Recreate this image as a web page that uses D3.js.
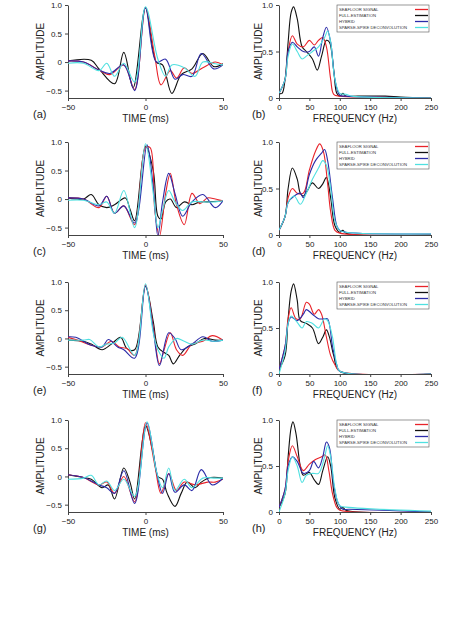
<!DOCTYPE html>
<html><head><meta charset="utf-8">
<script src="https://cdn.jsdelivr.net/npm/d3@7"></script>
<style>body{margin:0;background:#fff}text{font-family:"Liberation Sans",Arial,sans-serif}</style>
</head><body><svg id="c" width="474" height="622"></svg>
<script>
const seriesNames=["SEAFLOOR SIGNAL","FULL-ESTIMATION","HYBRID","SPARSE-SPIKE DECONVOLUTION"];
const seriesColors=["#e8232a","#111111","#2b2ba8","#4fe0e0"];
const panelLetters=["(a)","(b)","(c)","(d)","(e)","(f)","(g)","(h)"];
const timeTicks=[-50,0,50];
const freqTicks=[0,50,100,150,200,250];
const ampTicksTime=[-0.5,0,0.5,1.0];
const ampTicksFreq=[0,0.5,1.0];

const timeA=[
[[-50,0.02],[-40,0],[-30,-0.14],[-23,-0.22],[-14,-0.05],[-7,-0.48],[0,0.95],[6,0.1],[10,-0.4],[16,-0.15],[20,-0.28],[25,-0.1],[30,-0.2],[37,-0.1],[45,0],[50,-0.05]],
[[-50,0.02],[-35,0.03],[-30,-0.12],[-20,-0.38],[-14,0.17],[-8,-0.45],[0,0.95],[7,0],[11,-0.05],[17,-0.55],[23,-0.22],[30,-0.12],[37,0.15],[44,-0.08],[50,-0.03]],
[[-50,0.02],[-40,0],[-30,-0.14],[-23,-0.2],[-14,-0.05],[-7,-0.5],[0,0.95],[7,0.0],[13,0.05],[19,-0.3],[24,-0.22],[30,-0.25],[36,0.15],[44,-0.12],[50,-0.05]],
[[-50,-0.02],[-40,-0.02],[-30,-0.15],[-25,-0.02],[-20,-0.25],[-14,-0.02],[-7,-0.35],[0,0.97],[8,0.05],[13,-0.25],[17,-0.05],[25,-0.1],[32,-0.25],[37,0.0],[45,-0.03],[50,-0.05]]];
const timeC=[
[[-50,0.02],[-40,0],[-30,-0.15],[-25,0.05],[-20,-0.25],[-14,-0.12],[-7,-0.45],[0,0.9],[3,0.9],[6,-0.2],[9,-0.65],[13,0.1],[16,0.45],[20,-0.1],[25,-0.45],[30,0.1],[35,-0.08],[40,0.02],[45,0],[50,-0.03]],
[[-50,0.02],[-40,0],[-35,0.08],[-30,-0.1],[-25,-0.15],[-20,-0.1],[-13,0.02],[-10,-0.18],[-7,-0.38],[0,0.93],[5,0.5],[8,-0.3],[10,-0.35],[13,-0.05],[16,0.0],[20,-0.15],[25,-0.05],[30,-0.1],[35,-0.05],[40,-0.05],[50,-0.03]],
[[-50,0.02],[-40,0],[-30,-0.12],[-25,0.05],[-20,-0.25],[-14,-0.12],[-7,-0.42],[1,0.95],[5,0.2],[8,-0.65],[11,-0.05],[15,0.45],[19,0.1],[24,-0.3],[30,-0.05],[37,0.08],[45,-0.15],[50,-0.03]],
[[-50,-0.02],[-40,-0.02],[-30,-0.1],[-25,-0.05],[-20,-0.25],[-14,0.15],[-7,-0.5],[0,0.97],[5,0.1],[8,-0.5],[11,-0.2],[15,0.15],[19,-0.05],[24,-0.2],[30,-0.05],[37,-0.05],[45,-0.05],[50,-0.03]]];
const timeE=[
[[-50,0.02],[-45,-0.02],[-35,-0.12],[-28,-0.15],[-22,-0.05],[-17,-0.15],[-12,-0.18],[-7,-0.3],[0,0.95],[5,0.2],[9,-0.45],[12,-0.2],[16,0.1],[20,-0.2],[24,-0.3],[30,-0.1],[37,-0.05],[43,0.05],[50,-0.03]],
[[-50,-0.03],[-40,-0.05],[-35,-0.1],[-28,-0.2],[-22,-0.1],[-16,0.02],[-12,-0.18],[-7,-0.2],[0,0.92],[5,0.3],[8,-0.15],[12,-0.25],[15,-0.3],[18,-0.45],[22,-0.3],[27,-0.15],[32,-0.1],[38,0.0],[45,-0.03],[50,-0.03]],
[[-50,0.03],[-45,0.02],[-35,-0.12],[-28,-0.15],[-24,-0.02],[-18,-0.15],[-14,-0.2],[-7,-0.35],[0,0.93],[5,0.15],[9,-0.48],[15,0.1],[19,0.0],[23,-0.2],[30,-0.1],[37,0.03],[43,-0.05],[50,-0.03]],
[[-50,-0.03],[-40,-0.03],[-36,-0.02],[-30,-0.15],[-25,-0.1],[-20,-0.08],[-15,0.02],[-7,-0.3],[0,0.97],[5,0.1],[8,-0.2],[12,-0.35],[15,-0.15],[20,0.0],[25,-0.05],[30,-0.1],[37,-0.03],[45,-0.05],[50,-0.03]]];
const timeG=[
[[-50,0.03],[-40,-0.02],[-30,-0.15],[-25,-0.1],[-20,-0.3],[-14,0.0],[-7,-0.45],[0,0.95],[6,0.2],[10,-0.3],[15,0.05],[20,-0.25],[25,-0.1],[32,-0.15],[40,-0.1],[45,-0.1],[50,-0.05]],
[[-50,0.03],[-40,-0.02],[-35,-0.05],[-28,-0.2],[-24,-0.15],[-20,-0.4],[-14,0.15],[-10,-0.1],[-7,-0.4],[0,0.9],[5,0.4],[8,0],[11,-0.05],[14,-0.3],[19,-0.53],[23,-0.3],[27,-0.1],[32,-0.2],[36,-0.1],[42,-0.02],[50,-0.03]],
[[-50,0.03],[-40,-0.02],[-30,-0.15],[-25,-0.2],[-20,-0.3],[-14,0.1],[-7,-0.48],[1,0.95],[7,0.1],[11,-0.3],[15,0.05],[19,-0.28],[25,-0.15],[30,-0.25],[36,0.12],[43,-0.15],[50,-0.03]],
[[-50,-0.05],[-40,-0.03],[-35,0.02],[-30,-0.15],[-25,-0.08],[-20,-0.25],[-14,-0.05],[-7,-0.35],[1,0.97],[7,0.1],[11,-0.2],[15,0.15],[19,-0.25],[25,-0.05],[30,-0.2],[37,-0.03],[45,-0.03],[50,-0.03]]];

const freqB=[
[[0,0.05],[10,0.2],[15,0.5],[22,0.67],[30,0.58],[40,0.55],[50,0.62],[58,0.57],[65,0.62],[72,0.65],[78,0.55],[85,0.2],[90,0.04],[100,0.02],[150,0.01],[250,0]],
[[0,0.05],[5,0.05],[10,0.2],[15,0.6],[20,0.92],[24,0.98],[30,0.85],[38,0.55],[45,0.5],[55,0.42],[63,0.3],[70,0.45],[78,0.62],[83,0.6],[90,0.3],[95,0.05],[100,0.02],[105,0.05],[110,0.02],[130,0.02],[175,0.02],[200,0.01],[250,0]],
[[0,0.05],[10,0.2],[15,0.5],[22,0.6],[30,0.55],[40,0.5],[50,0.5],[58,0.55],[65,0.45],[72,0.65],[78,0.76],[85,0.6],[92,0.2],[100,0.03],[110,0.02],[250,0]],
[[0,0.05],[10,0.2],[15,0.45],[22,0.58],[30,0.5],[38,0.42],[45,0.45],[55,0.5],[65,0.55],[75,0.65],[80,0.72],[85,0.6],[92,0.2],[100,0.05],[110,0.04],[120,0.02],[250,0]]];
const freqD=[
[[0,0.05],[10,0.2],[15,0.4],[22,0.5],[30,0.45],[40,0.45],[50,0.7],[60,0.9],[67,0.98],[73,0.9],[80,0.55],[85,0.25],[92,0.05],[100,0.02],[250,0]],
[[0,0.05],[10,0.2],[15,0.5],[22,0.72],[30,0.6],[35,0.45],[40,0.42],[47,0.48],[55,0.56],[65,0.5],[72,0.55],[78,0.62],[85,0.4],[92,0.1],[100,0.03],[105,0.05],[110,0.02],[250,0]],
[[0,0.05],[10,0.2],[15,0.35],[25,0.42],[35,0.45],[40,0.4],[50,0.65],[60,0.8],[70,0.88],[75,0.92],[80,0.8],[88,0.4],[95,0.1],[100,0.05],[110,0.03],[250,0.01]],
[[0,0.05],[10,0.2],[15,0.35],[25,0.42],[35,0.33],[45,0.45],[55,0.6],[65,0.72],[72,0.8],[78,0.75],[85,0.5],[92,0.15],[100,0.05],[110,0.03],[250,0.01]]];
const freqF=[
[[0,0.05],[10,0.3],[15,0.6],[20,0.72],[28,0.6],[35,0.6],[45,0.78],[50,0.76],[58,0.65],[65,0.7],[70,0.65],[78,0.4],[85,0.2],[92,0.1],[100,0.03],[250,0]],
[[0,0.05],[10,0.2],[15,0.6],[20,0.9],[24,0.98],[30,0.8],[35,0.58],[45,0.55],[55,0.5],[65,0.33],[72,0.4],[78,0.48],[83,0.4],[90,0.2],[100,0.03],[250,0]],
[[0,0.05],[10,0.3],[15,0.55],[20,0.62],[30,0.58],[40,0.65],[45,0.7],[55,0.65],[65,0.6],[75,0.6],[80,0.6],[88,0.3],[95,0.1],[100,0.03],[250,0]],
[[0,0.0],[10,0.25],[15,0.55],[20,0.63],[30,0.56],[38,0.5],[45,0.57],[55,0.55],[65,0.5],[75,0.6],[80,0.58],[88,0.4],[95,0.1],[100,0.03],[250,0]]];
const freqH=[
[[0,0.05],[10,0.25],[15,0.55],[22,0.72],[30,0.6],[40,0.45],[50,0.52],[60,0.57],[70,0.6],[76,0.62],[82,0.45],[88,0.2],[95,0.05],[100,0.02],[250,0]],
[[0,0.05],[10,0.2],[15,0.6],[20,0.92],[23,0.98],[28,0.85],[35,0.5],[40,0.4],[50,0.43],[58,0.35],[65,0.3],[72,0.45],[80,0.6],[85,0.5],[92,0.15],[100,0.03],[105,0.05],[110,0.02],[250,0]],
[[0,0.05],[10,0.25],[15,0.5],[22,0.6],[30,0.55],[40,0.42],[50,0.45],[57,0.55],[65,0.48],[72,0.6],[78,0.76],[83,0.7],[90,0.3],[97,0.1],[105,0.03],[115,0.03],[250,0]],
[[0,0.0],[10,0.2],[15,0.45],[22,0.6],[30,0.5],[38,0.32],[45,0.4],[55,0.42],[65,0.42],[75,0.6],[80,0.72],[85,0.6],[92,0.25],[100,0.07],[115,0.05],[250,0.01]]];

const timeData=[timeA,timeC,timeE,timeG];
const freqData=[freqB,freqD,freqF,freqH];

const svg=d3.select("#c");
const rowTop=[5,142,282,420];
const rowBottom=[98,235,374,512];

function panel(r,isFreq){
  const data=isFreq?freqData[r]:timeData[r];
  const x0=isFreq?279:68, x1=isFreq?431:223;
  const x=d3.scaleLinear().domain(isFreq?[0,250]:[-50,50]).range([x0,x1]);
  const y=d3.scaleLinear().domain(isFreq?[0,1]:[-0.63,1]).range([rowBottom[r],rowTop[r]]);
  const fmt=d=>d===0?"0":d3.format(".1f")(d);
  const ga=svg.append("g");
  const xa=ga.append("g").attr("transform",`translate(0,${rowBottom[r]})`)
    .call(d3.axisBottom(x).tickValues(isFreq?freqTicks:timeTicks).tickSize(3).tickSizeOuter(0).tickFormat(d3.format("d")));
  const ya=ga.append("g").attr("transform",`translate(${x0},0)`)
    .call(d3.axisLeft(y).tickValues(isFreq?ampTicksFreq:ampTicksTime).tickSize(3).tickSizeOuter(0).tickFormat(fmt));
  [xa,ya].forEach(a=>{a.selectAll("path,line").attr("stroke","#444");a.selectAll("text").attr("font-size",8).attr("fill","#222");});
  const line=d3.line().x(d=>x(d[0])).y(d=>y(d[1])).curve(d3.curveCatmullRom.alpha(0.5));
  const clip="cl"+r+(isFreq?"f":"t");
  svg.append("clipPath").attr("id",clip).append("rect").attr("x",x0).attr("y",rowTop[r]-3).attr("width",x1-x0).attr("height",rowBottom[r]-rowTop[r]+3);
  const gl=svg.append("g").attr("clip-path",`url(#${clip})`);
  [1,0,2,3].forEach(i=>{
    gl.append("path").datum(data[i]).attr("d",line).attr("fill","none").attr("stroke",seriesColors[i]).attr("stroke-width",1.1);
  });
  const midY=(rowTop[r]+rowBottom[r])/2;
  svg.append("text").attr("transform",`translate(${isFreq?262:44},${midY}) rotate(-90)`).attr("text-anchor","middle").attr("font-size",10).attr("fill","#222").text("AMPLITUDE");
  svg.append("text").attr("x",(x0+x1)/2).attr("y",rowBottom[r]+24).attr("text-anchor","middle").attr("font-size",10).attr("fill","#222").text(isFreq?"FREQUENCY (Hz)":"TIME (ms)");
  svg.append("text").attr("x",isFreq?252:33).attr("y",rowBottom[r]+20).attr("font-size",11).attr("fill","#222").text(panelLetters[r*2+(isFreq?1:0)]);
  if(isFreq){
    const lg=svg.append("g").attr("transform",`translate(337,${rowTop[r]})`);
    lg.append("rect").attr("width",92).attr("height",27).attr("fill","#fff").attr("stroke","#555").attr("stroke-width",0.6);
    seriesNames.forEach((n,i)=>{
      lg.append("text").attr("x",2).attr("y",6+i*6).attr("font-size",4.2).attr("fill","#333").text(n);
      lg.append("line").attr("x1",78).attr("x2",91).attr("y1",4.5+i*6).attr("y2",4.5+i*6).attr("stroke",seriesColors[i]).attr("stroke-width",1.3);
    });
  }
}
for(let r=0;r<4;r++){panel(r,false);panel(r,true);}
</script></body></html>
